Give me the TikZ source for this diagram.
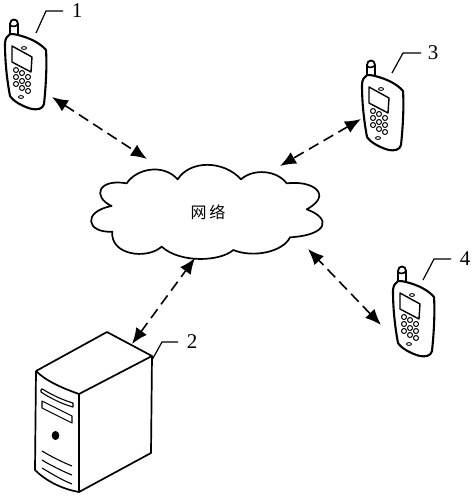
\documentclass[tikz,border=0pt]{standalone}
\usepackage{fontspec}
\setmainfont{Liberation Serif}
\newfontfamily\cjk{Noto Sans CJK SC}[Scale=1]
\usetikzlibrary{arrows.meta}
\tikzset{
  every picture/.style={line join=round},
  outline/.style={draw=black,line width=1.5pt},
  thickoutline/.style={draw=black,line width=2.1pt,fill=white},
  thinline/.style={draw=black,line width=1.1pt},
  leader/.style={draw=black,line width=1.2pt},
  numlabel/.style={font=\fontsize{21}{21}\selectfont,inner sep=0pt,text=black},
  link/.style={draw=black,line width=1.6pt,dash pattern=on 11pt off 6pt,
    {Latex[length=16pt,width=13pt]}-{Latex[length=16pt,width=13pt]}},
  pics/phone/.style={code={
    \draw[thinline,line width=1.8pt,fill=white] (10,36) -- (10,24) .. controls (10,18) and (18,18) .. (18,24) -- (18,37);
    \draw[thinline,line width=1.6pt] (10,25) .. controls (12,27) and (16,27) .. (18,24);
    \draw[thickoutline] (10,34) .. controls (12,34) and (14,34) .. (18,35)
      .. controls (30,38) and (40,43) .. (46,50)
      .. controls (47,65) and (46,85) .. (44,104)
      .. controls (43,109) and (37,110) .. (32,109)
      .. controls (24,107) and (14,102) .. (10,96)
      .. controls (7,80) and (5,62) .. (5,44)
      .. controls (5,39) and (7,36) .. (10,34) -- cycle;
    \draw[thinline,line width=1.4pt] (12,46) -- (32,57) -- (31,72) -- (12,62) -- cycle;
    \draw[thinline,line width=0.9pt] (24,48) ellipse[x radius=2.5pt,y radius=1.4pt];
    \draw[thinline,line width=0.9pt] (21,97) ellipse[x radius=2.5pt,y radius=1.4pt];
    \foreach \bx/\by in {16/70,22/73,28/77,16/77,22/81,28/84,16/84,22/88,28/91}
      \draw[thinline,line width=1pt] (\bx,\by) circle[radius=2.5pt];
  }},
}
\begin{document}
\begin{tikzpicture}[x=1pt,y=-1pt]
\useasboundingbox (0,0) rectangle (474,498);
% phones
\pic at (0,0) {phone};
\pic at (357,41) {phone};
\pic at (388,247) {phone};
% leaders
\coordinate (l1a) at (36,33); \coordinate (l1b) at (46,11); \coordinate (l1c) at (63,11);
\draw[leader] (l1a) -- (l1b) -- (l1c);
\node[numlabel] (n1) at (77,11) {1};
\coordinate (l3a) at (392,73); \coordinate (l3b) at (403,53); \coordinate (l3c) at (421,53);
\draw[leader] (l3a) -- (l3b) -- (l3c);
\node[numlabel] (n3) at (433,53) {3};
\coordinate (l4a) at (423,280); \coordinate (l4b) at (434,259); \coordinate (l4c) at (451,259);
\draw[leader] (l4a) -- (l4b) -- (l4c);
\node[numlabel] (n4) at (465,259) {4};
\coordinate (l2a) at (152,360); \coordinate (l2b) at (162,342); \coordinate (l2c) at (178,342);
% cloud
\begin{scope}[shift={(80,150)},x=0.33333pt,y=-0.33333pt]
\draw[outline,line width=1.7pt] (140,100)
  .. controls (170,55) and (250,40) .. (293,88)
  .. controls (330,30) and (430,30) .. (483,88)
  .. controls (520,55) and (590,60) .. (620,100)
  .. controls (700,90) and (760,135) .. (680,178)
  .. controls (755,205) and (745,255) .. (630,262)
  .. controls (610,305) and (520,325) .. (460,300)
  .. controls (420,335) and (300,340) .. (245,290)
  .. controls (200,330) and (90,315) .. (97,245)
  .. controls (20,250) and (5,185) .. (95,168)
  .. controls (35,140) and (55,85) .. (140,100) -- cycle;
\end{scope}
\node[inner sep=0pt,text=black] (net) at (208,212) {\cjk\fontsize{16}{16}\selectfont 网\,络};
% server
\coordinate (sA) at (107,332); \coordinate (sL) at (36,371); \coordinate (sF) at (79,394);
\coordinate (sR) at (152,356); \coordinate (sBL) at (35,470); \coordinate (sBF) at (79,492);
\coordinate (sBR) at (151,453);
\draw[outline,line width=1.7pt] (sL) -- (sA) -- (sR) -- (sF) .. controls (62,388) and (46,381) .. (sL);
\draw[outline,line width=1.7pt] (sL) -- (sBL) .. controls (46,481) and (62,489) .. (sBF) -- (sBR) -- (sR);
\draw[outline,line width=1.3pt] (sF) -- (sBF);
\draw[thinline] (41,390) .. controls (41,388) and (43,389) .. (44,390) .. controls (54,396) and (63,400) .. (73,403) -- (73,407) .. controls (62,404) and (50,398) .. (41,392) -- cycle;
\draw[thinline] (42,401) -- (72,416) -- (72,423) -- (42,408) -- cycle;
\fill[black] (55.5,435.5) ellipse[x radius=3.8pt,y radius=4.6pt];
\foreach \ya/\yb in {451/466,460/475,468/484}
  \draw[thinline] (42,\ya) .. controls (52,\ya+6) and (62,\yb-4) .. (72,\yb);
\draw[leader] (l2a) -- (l2b) -- (l2c);
\node[numlabel] (n2) at (192,342) {2};
% connectors
\coordinate (p1) at (52,97); \coordinate (c1) at (147,159);
\coordinate (p3) at (361,119); \coordinate (c3) at (280,166);
\coordinate (p4) at (381,325); \coordinate (c4) at (308,249);
\coordinate (s2) at (132,344); \coordinate (c2) at (195,258);
\draw[link] (p1) -- (c1);
\draw[link] (p3) -- (c3);
\draw[link] (p4) -- (c4);
\draw[link] (s2) -- (c2);
\end{tikzpicture}
\end{document}
